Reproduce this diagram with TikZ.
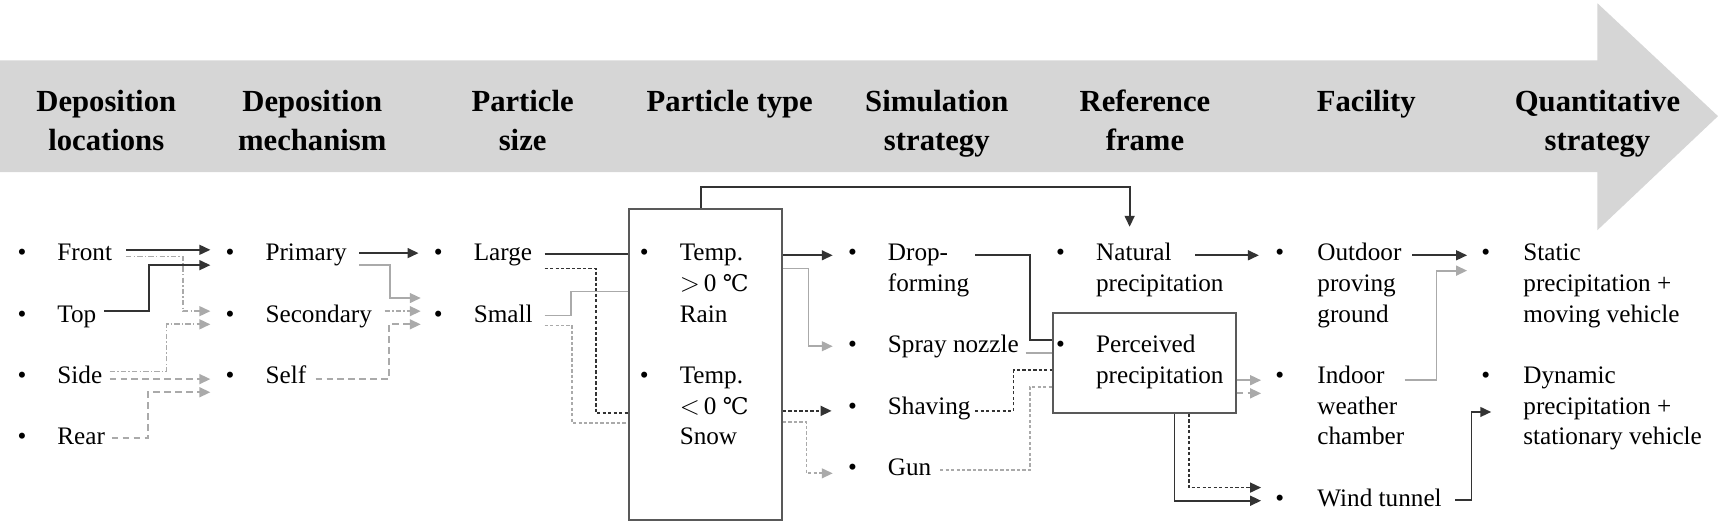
\documentclass[tikz,border=0pt]{standalone}
\usepackage{fontspec}
\setmainfont{Liberation Serif}
\newfontfamily\dvs{DejaVu Serif}
\usetikzlibrary{arrows.meta}
\definecolor{dk}{HTML}{333333}
\definecolor{gy}{HTML}{AAAAAA}
\definecolor{band}{HTML}{D6D6D6}
\newcommand{\degc}{{\dvs\fontsize{10.5pt}{14pt}\selectfont ℃}}
\begin{document}
\begin{tikzpicture}[x=0.5pt,y=-0.5pt,
  txt/.style={anchor=north west,inner sep=0,align=left,font=\fontsize{11.5pt}{14pt}\selectfont},
  hd/.style={anchor=north,inner sep=0,align=center,font=\fontsize{14pt}{17.5pt}\selectfont\bfseries},
  bul/.style={anchor=base,inner sep=0,font=\fontsize{11.5pt}{14pt}\selectfont},
  bx/.style={draw=black!65,line width=0.8pt,fill=white,inner sep=0,anchor=north west},
  arr/.style={-{Triangle[length=5pt,width=4.5pt]}},
  dkl/.style={draw=dk,line width=0.8pt},
  gyl/.style={draw=gy,line width=0.8pt},
  dots/.style={dash pattern=on 1.5pt off 1pt},
  dsh/.style={dash pattern=on 3pt off 2pt},
  dd/.style={dash pattern=on 2.5pt off 1pt on 0.6pt off 1pt}]
\useasboundingbox (0,0) rectangle (1568,478);
% band arrow
\fill[band] (0,55) -- (1458,55) -- (1458,3) -- (1568,106) -- (1458,210) -- (1458,157) -- (0,157) -- cycle;
% headers
\node[hd] (h1) at (97,77) {\strut Deposition\\\strut locations};
\node[hd] (h2) at (285,77) {\strut Deposition\\\strut mechanism};
\node[hd] (h3) at (477,77) {\strut Particle\\\strut size};
\node[hd] (h4) at (666,77) {\strut Particle type};
\node[hd] (h5) at (855,77) {\strut Simulation\\\strut strategy};
\node[hd] (h6) at (1045,77) {\strut Reference\\\strut frame};
\node[hd] (h7) at (1247,77) {\strut Facility};
\node[hd] (h8) at (1458,77) {\strut Quantitative\\\strut strategy};
% boxes
\node[bx,minimum width=70pt,minimum height=142pt] (box1) at (573,190) {};
\node[bx,minimum width=83.5pt,minimum height=45.5pt] (box2) at (960,285) {};
% bullets
\foreach \x/\y in {20/233,20/289,20/345,20/401,210/233,210/289,210/345,400/233,400/289,588/233,588/345,778/233,778/317,778/373,778/429,968/233,968/317,1168/233,1168/345,1168/457,1356/233,1356/345}
  \node[bul] at (\x,\y+5) {\textbullet};
% texts
\node[txt] (front) at (52,218) {\strut Front};
\node[txt] (top) at (52,274) {\strut Top};
\node[txt] (side) at (52,330) {\strut Side};
\node[txt] (rear) at (52,386) {\strut Rear};
\node[txt] (prim) at (242,218) {\strut Primary};
\node[txt] (sec) at (242,274) {\strut Secondary};
\node[txt] (self) at (242,330) {\strut Self};
\node[txt] (large) at (432,218) {\strut Large};
\node[txt] (small) at (432,274) {\strut Small};
\node[txt] (rain) at (620,218) {\strut Temp.\\\strut $>$\,0 \degc\\\strut Rain};
\node[txt] (snow) at (620,330) {\strut Temp.\\\strut $<$\,0 \degc\\\strut Snow};
\node[txt] (drop) at (810,218) {\strut Drop-\\\strut forming};
\node[txt] (spray) at (810,302) {\strut Spray nozzle};
\node[txt] (shav) at (810,358) {\strut Shaving};
\node[txt] (gun) at (810,414) {\strut Gun};
\node[txt] (nat) at (1000,218) {\strut Natural\\\strut precipitation};
\node[txt] (perc) at (1000,302) {\strut Perceived\\\strut precipitation};
\node[txt] (outd) at (1202,218) {\strut Outdoor\\\strut proving\\\strut ground};
\node[txt] (indo) at (1202,330) {\strut Indoor\\\strut weather\\\strut chamber};
\node[txt] (wind) at (1202,442) {\strut Wind tunnel};
\node[txt] (stat) at (1390,218) {\strut Static\\\strut precipitation +\\\strut moving vehicle};
\node[txt] (dyn) at (1390,330) {\strut Dynamic\\\strut precipitation +\\\strut stationary vehicle};
% connectors col1 -> col2
\draw[dkl,arr] (115,228) -- (192,228);
\draw[dkl,arr] (95,284) -- (136,284) -- (136,242) -- (192,242);
\draw[gyl,dd,arr] (115,234) -- (167,234) -- (167,284) -- (192,284);
\draw[gyl,dd,arr] (100,339) -- (152,339) -- (152,296) -- (192,296);
\draw[gyl,dsh,arr] (100,346) -- (192,346);
\draw[gyl,dsh,arr] (102,400) -- (135,400) -- (135,358) -- (192,358);
% col2 -> col3
\draw[dkl,arr] (328,231) -- (382,231);
\draw[gyl,arr] (328,242) -- (356,242) -- (356,272) -- (384,272);
\draw[gyl,dd,arr] (351,284) -- (384,284);
\draw[gyl,dsh,arr] (288,346) -- (355,346) -- (355,296) -- (384,296);
% col3 -> box1
\draw[dkl] (497,232) -- (box1.west |- 0,232);
\draw[dkl,dots] (497,245) -- (544,245) -- (544,377) -- (box1.west |- 0,377);
\draw[gyl] (497,288) -- (521,288) -- (521,266) -- (box1.west |- 0,266);
\draw[gyl,dots] (497,297) -- (522,297) -- (522,386) -- (box1.west |- 0,386);
% box1 -> natural
\draw[dkl,arr] (640,190) -- (640,171) -- (1031,171) -- (1031,207);
% box1 -> col5
\draw[dkl,arr] (box1.east |- 0,233) -- (760,233);
\draw[gyl,arr] (box1.east |- 0,245) -- (738,245) -- (738,316) -- (760,316);
\draw[dkl,dots,arr] (box1.east |- 0,375) -- (759,375);
\draw[gyl,dots,arr] (box1.east |- 0,385) -- (736,385) -- (736,432) -- (760,432);
% col5 -> box2
\draw[dkl] (890,233) -- (940,233) -- (940,310) -- (box2.west |- 0,310);
\draw[gyl] (936,322) -- (box2.west |- 0,322);
\draw[dkl,dots] (890,375) -- (925,375) -- (925,338) -- (box2.west |- 0,338);
\draw[gyl,dots] (858,429) -- (940,429) -- (940,353) -- (box2.west |- 0,353);
% box2 -> facility
\draw[gyl,arr] (box2.east |- 0,347) -- (1151,347);
\draw[gyl,dsh,arr] (box2.east |- 0,359) -- (1151,359);
\draw[dkl,arr] (box2.south -| 1072,0) -- (1072,457) -- (1151,457);
\draw[dkl,dots,arr] (box2.south -| 1085,0) -- (1085,445) -- (1151,445);
\draw[dkl,arr] (1091,233) -- (1149,233);
% facility -> strategy
\draw[dkl,arr] (1289,233) -- (1339,233);
\draw[gyl,arr] (1282,347) -- (1311,347) -- (1311,247) -- (1339,247);
\draw[dkl,arr] (1328,456) -- (1343,456) -- (1343,376) -- (1361,376);
\end{tikzpicture}
\end{document}
